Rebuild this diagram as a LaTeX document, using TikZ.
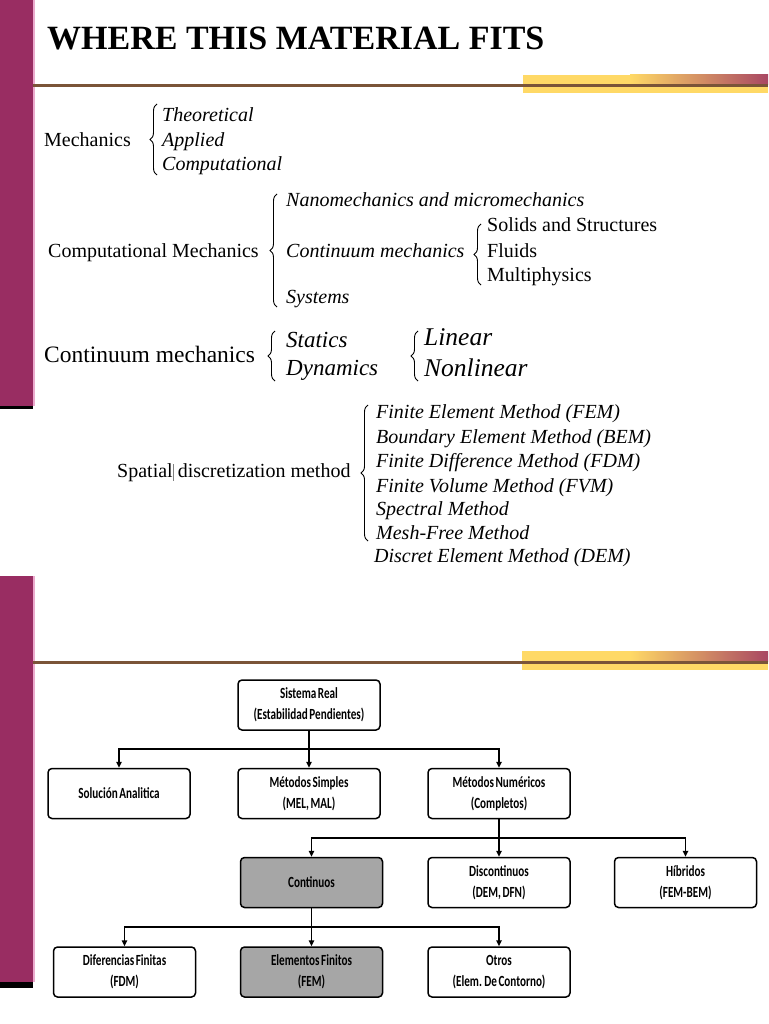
\documentclass[tikz,border=0pt]{standalone}
\usepackage{fontspec}
\setmainfont{Liberation Serif}
\newfontfamily\boxfont{Carlito}[FakeStretch=0.72,WordSpace=0.6]
\usetikzlibrary{arrows.meta,decorations.pathreplacing,calc}
\definecolor{barmag}{RGB}{153,45,98}
\definecolor{barpink}{RGB}{235,170,205}
\definecolor{rulebrown}{RGB}{122,84,56}
\definecolor{bandyel}{RGB}{255,217,102}
\definecolor{boxgray}{RGB}{166,166,166}
\tikzset{
  txt/.style={anchor=base west,inner sep=0pt,font=\fontsize{20}{24}\selectfont},
  itxt/.style={anchor=base west,inner sep=0pt,font=\fontsize{20}{24}\selectfont\itshape},
  brc/.style={decorate,decoration={brace,amplitude=7pt},line width=0.9pt},
  boxnode/.style={draw,rounded corners=4pt,line width=1.5pt,minimum width=142pt,minimum height=50pt,
    align=center,fill=white,font=\boxfont\bfseries\fontsize{15.5}{21}\selectfont},
  graybox/.style={boxnode,fill=boxgray},
  link/.style={line width=1.6pt},
  arrow/.style={line width=1.6pt,-{Triangle[length=6pt,width=5.5pt]}}
}
\begin{document}
\begin{tikzpicture}[x=1pt,y=-1pt]
    \useasboundingbox (0,0) rectangle (768,1024);
    \fill[white] (0,0) rectangle (768,1024);
    \fill[barmag]    (0,0)     rectangle (33,406);
    \fill[black]     (0,406)   rectangle (33,409);
    \fill[barpink]   (33,0)    rectangle (34.5,406);
    \fill[barmag]    (0,576)   rectangle (33,982);
    \fill[black]     (0,982)   rectangle (33,988);
    \fill[barpink]   (33,576)  rectangle (34.5,982);
    \fill[bandyel]   (523,75)  rectangle (768,93);
    \shade[left color=bandyel,right color=barmag!85!bandyel] (630,75) rectangle (768,85);
    \fill[rulebrown] (33,84.5) rectangle (768,87.5);
    \fill[bandyel]   (522,651) rectangle (768,670);
    \shade[left color=bandyel,right color=barmag!85!bandyel] (630,651) rectangle (768,661);
    \fill[rulebrown] (33,660.5) rectangle (768,663.5);

    \node[anchor=base west,inner sep=0pt,font=\fontsize{34}{40}\selectfont\bfseries] (title) at (47,50) {WHERE THIS MATERIAL FITS};

    \node[txt]  (mech)  at ( 44,146.5) {Mechanics};
    \node[itxt] (theo)  at (162,122.0) {Theoretical};
    \node[itxt] (appl)  at (162,146.5) {Applied};
    \node[itxt] (compu) at (162,171.0) {Computational};
    \draw[brc] (157,175) -- (157,104);

    \node[txt]  (cmech) at ( 48,257) {Computational Mechanics};
    \node[itxt] (nano)  at (286,207) {Nanomechanics and micromechanics};
    \node[itxt] (cmit)  at (286,257) {Continuum mechanics};
    \node[itxt] (syst)  at (286,303) {Systems};
    \draw[brc] (277,307) -- (277,194);
    \node[txt]  (soli)  at (487,232) {Solids and Structures};
    \node[txt]  (flui)  at (487,257) {Fluids};
    \node[txt]  (mult)  at (487,281) {Multiphysics};
    \draw[brc] (481,285) -- (481,224);

    \node[txt,font=\fontsize{23.5}{28}\selectfont]          (cmbig) at ( 44,362) {Continuum mechanics};
    \node[itxt,font=\fontsize{23}{28}\selectfont\itshape]   (stat)  at (286,347) {Statics};
    \node[itxt,font=\fontsize{23}{28}\selectfont\itshape]   (dyna)  at (286,375) {Dynamics};
    \draw[brc] (275,381) -- (275,331);
    \node[itxt,font=\fontsize{25.5}{30}\selectfont\itshape] (linr)  at (424,345) {Linear};
    \node[itxt,font=\fontsize{25.5}{30}\selectfont\itshape] (nonl)  at (424,376) {Nonlinear};
    \draw[brc] (418,381) -- (418,331);

    \node[txt]  (spat) at (117,477) {Spatial discretization method};
    \draw[gray,line width=0.6pt] (173,464) -- (173,481);
    \node[itxt] (fem)  at (376,418) {Finite Element Method (FEM)};
    \node[itxt] (bem)  at (376,443) {Boundary Element Method (BEM)};
    \node[itxt] (fdm)  at (376,467) {Finite Difference Method (FDM)};
    \node[itxt] (fvm)  at (376,492) {Finite Volume Method (FVM)};
    \node[itxt] (spec) at (376,515) {Spectral Method};
    \node[itxt] (mesh) at (376,539) {Mesh-Free Method};
    \node[itxt] (dem)  at (374,562) {Discret Element Method (DEM)};
    \draw[brc] (368,541) -- (368,405);

    \node[boxnode]  (real) at (309.0,705.0) {Sistema Real\\(Estabilidad Pendientes)};
    \node[boxnode]  (anal) at (119.0,793.5) {Solución Analitica};
    \node[boxnode]  (simp) at (309.0,793.5) {Métodos Simples\\(MEL, MAL)};
    \node[boxnode]  (nume) at (499.0,793.5) {Métodos Numéricos\\(Completos)};
    \node[graybox]  (cont) at (311.5,882.5) {Continuos};
    \node[boxnode]  (disc) at (499.0,882.5) {Discontinuos\\(DEM, DFN)};
    \node[boxnode]  (hibr) at (685.5,882.5) {Híbridos\\(FEM-BEM)};
    \node[boxnode]  (difr) at (124.5,972.0) {Diferencias Finitas\\(FDM)};
    \node[graybox]  (fini) at (311.5,972.0) {Elementos Finitos\\(FEM)};
    \node[boxnode]  (otro) at (499.0,972.0) {Otros\\(Elem. De Contorno)};

    \coordinate (bus1) at ($(real.south)!0.5!(simp.north)$);
    \coordinate (bus2) at ($(nume.south)!0.5!(disc.north)$);
    \coordinate (bus3) at ($(cont.south)!0.5!(fini.north)$);
    \draw[link]  (real) -- (bus1);
    \draw[arrow] (bus1) -| (anal);
    \draw[arrow] (bus1) -- (simp);
    \draw[arrow] (bus1) -| (nume);
    \draw[link]  (nume) -- (bus2);
    \draw[arrow] (bus2) -| (cont);
    \draw[arrow] (bus2) -- (disc);
    \draw[arrow] (bus2) -| (hibr);
    \draw[link]  (cont) -- (bus3);
    \draw[arrow] (bus3) -| (difr);
    \draw[arrow] (bus3) -- (fini);
    \draw[arrow] (bus3) -| (otro);
  \end{tikzpicture}
\end{document}
